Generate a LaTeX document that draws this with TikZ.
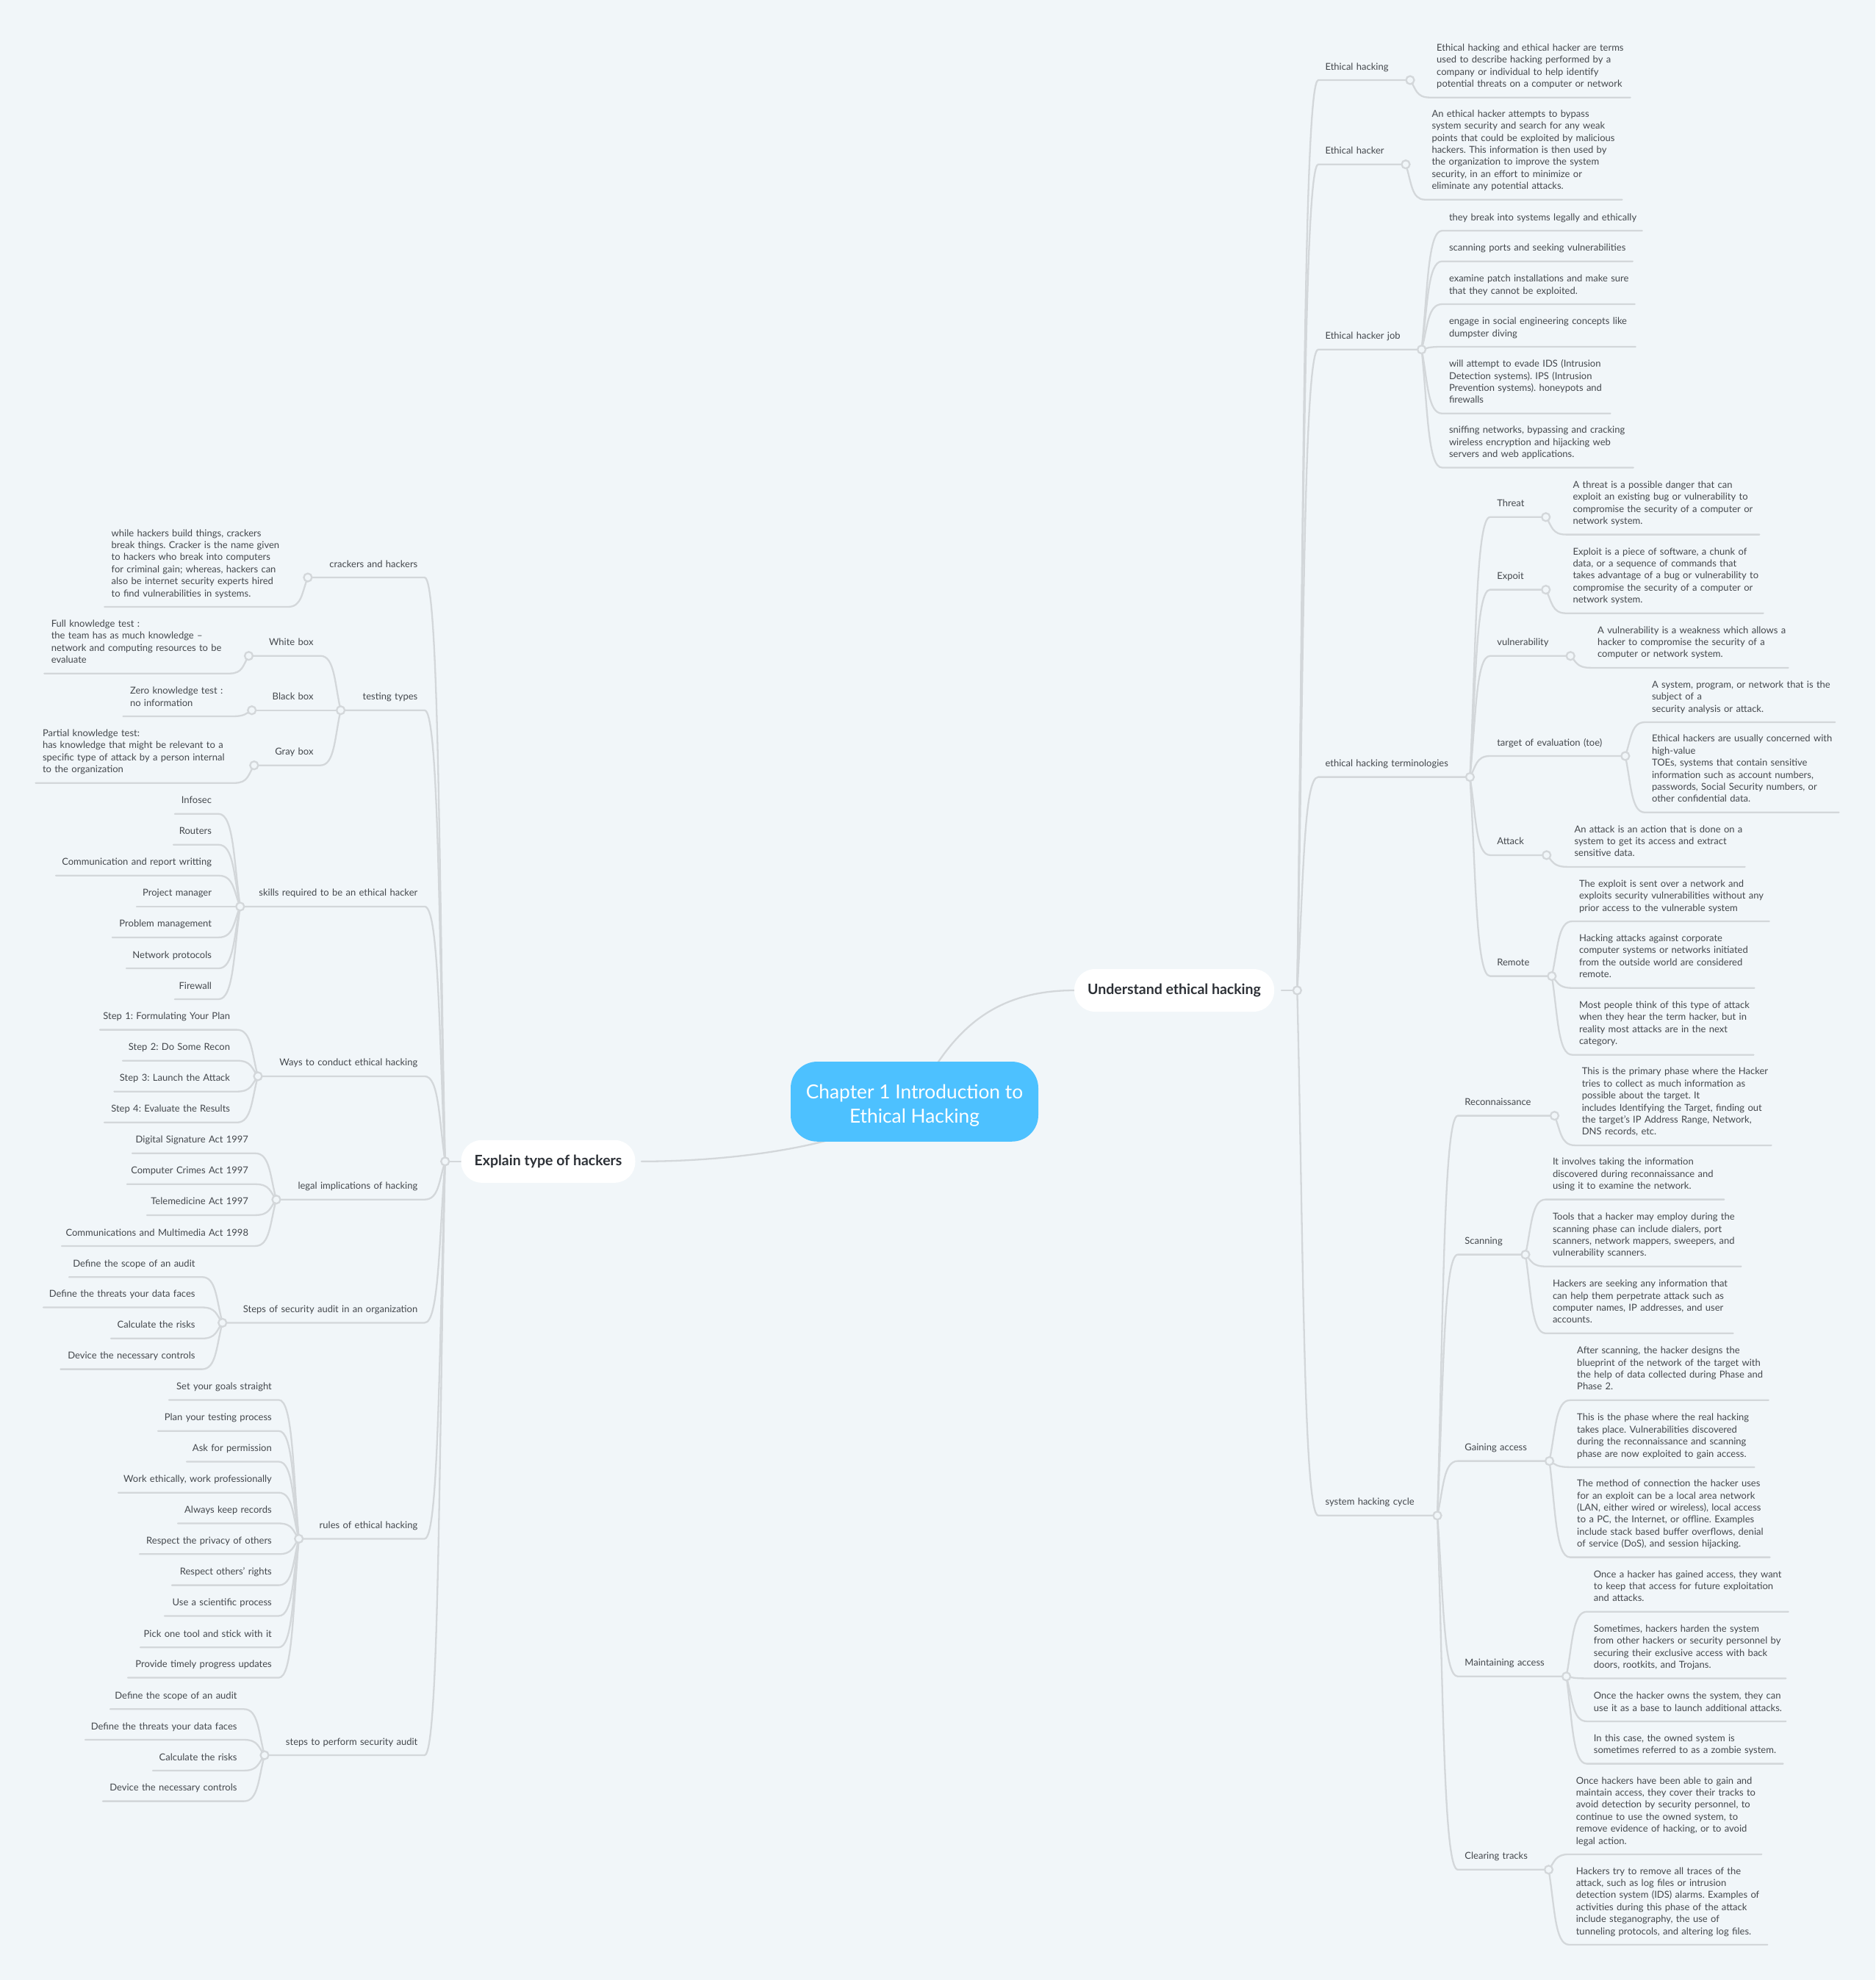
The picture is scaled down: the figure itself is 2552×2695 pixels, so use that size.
\documentclass[tikz,border=0pt]{standalone}
\usepackage{fontspec}
\setmainfont{Lato}
\frenchspacing
\usetikzlibrary{calc}
\definecolor{bgc}{HTML}{F1F6F9}
\definecolor{linec}{HTML}{D3D7DA}
\definecolor{ink}{HTML}{44484D}
\definecolor{inkb}{HTML}{2C3036}
\definecolor{rootc}{HTML}{4DC1FF}
\pgfdeclarelayer{lines}
\pgfsetlayers{lines,main}
\tikzset{
  conn/.style={draw=linec,line width=2.3pt,line cap=round},
  branch/.style={to path={let \p1=(\tikztostart),\p2=(\tikztotarget) in
     .. controls ({\x1+.3*(\x2-\x1)},{\y1+.5*(\y2-\y1)}) and ({\x1+.3*(\x2-\x1)},\y2) .. (\tikztotarget)}},
  dotn/.style={circle,draw=linec,fill=bgc,line width=2.3pt,minimum size=11pt,inner sep=0pt,outer sep=0pt},
  mmtext/.style={inner xsep=9.5pt,inner ysep=9pt,outer sep=0pt,text=ink,
     font=\fontsize{13}{16.4}\selectfont},
  leftt/.style={mmtext,anchor=south west,
     execute at begin node={\frenchspacing\parindent=0pt\rightskip=-30pt plus 1fil\relax\strut},
     execute at end node={\strut}},
  rightt/.style={mmtext,anchor=south west,
     execute at begin node={\frenchspacing\parindent=0pt\leftskip=-30pt plus 1fil\relax\rightskip=0pt\parfillskip=0pt\strut}},
  pill/.style={fill=white,rounded corners=28pt,inner sep=0pt,outer sep=0pt,minimum height=58pt,
     text=inkb,font=\fontsize{19.5}{22}\selectfont\bfseries},
  rootn/.style={fill=rootc,rounded corners=36pt,inner sep=0pt,outer sep=0pt,minimum width=337pt,minimum height=108.7pt,
     text=white,align=center,font=\fontsize{26.3}{33}\selectfont},
}
% right side: label with a dot at the end of its line
\newcommand\mmRD[6]{%
  \pgfmathsetmacro\mmw{#4-#3-19}%
  \node[leftt,text width=\mmw pt] (#1-t) at (#3,#5) {#6};
  \node[dotn] (#1) at (#4,#5) {};
  \begin{pgfonlayer}{lines}\draw[conn] (#2.center) to[branch] (#1-t.south west) -- (#1.center);\end{pgfonlayer}}
% right side: text with an underline
\newcommand\mmRL[6]{%
  \pgfmathsetmacro\mmw{#4-#3-19}%
  \node[leftt,text width=\mmw pt] (#1) at (#3,#5) {#6};
  \begin{pgfonlayer}{lines}\draw[conn] (#2.center) to[branch] (#1.south west) -- (#1.south east);\end{pgfonlayer}}
% left side: label with a dot at the start of its line
\newcommand\mmLD[6]{%
  \pgfmathsetmacro\mmw{#4-#3-19}%
  \node[rightt,text width=\mmw pt] (#1-t) at (#3,#5) {#6};
  \node[dotn] (#1) at (#3,#5) {};
  \begin{pgfonlayer}{lines}\draw[conn] (#2.center) to[branch] (#1-t.south east) -- (#1.center);\end{pgfonlayer}}
% left side: left-aligned text with an underline
\newcommand\mmLL[6]{%
  \pgfmathsetmacro\mmw{#4-#3-19}%
  \node[leftt,text width=\mmw pt] (#1) at (#3,#5) {#6};
  \begin{pgfonlayer}{lines}\draw[conn] (#2.center) to[branch] (#1.south east) -- (#1.south west);\end{pgfonlayer}}
% left side: right-aligned text with an underline
\newcommand\mmLR[6]{%
  \pgfmathsetmacro\mmw{#4-#3-19}%
  \node[rightt,text width=\mmw pt] (#1) at (#3,#5) {#6};
  \begin{pgfonlayer}{lines}\draw[conn] (#2.center) to[branch] (#1.south east) -- (#1.south west);\end{pgfonlayer}}
\begin{document}
\begin{tikzpicture}[x=1pt,y=-1pt]
\useasboundingbox (0,0) rectangle (2552,2695);
\begin{pgfonlayer}{lines}\fill[bgc] (0,0) rectangle (2552,2695);\end{pgfonlayer}
% central
\node[rootn,text depth=0pt] (root) at (1244.5,1499.4) {\raisebox{11.5pt}{\parbox{330pt}{\centering Chapter 1 Introduction to\\Ethical Hacking}}};
\node[pill,minimum width=272pt] (und) at (1598,1348) {Understand ethical hacking};
\node[pill,minimum width=237pt] (exp) at (746,1580.8) {Explain type of hackers};
\node[dotn] (udot) at (1765.3,1348) {};
\node[dotn] (edot) at (605.7,1580.8) {};
\coordinate (ustub) at (1744,1348);
\coordinate (estub) at (873,1580.8);
\begin{pgfonlayer}{lines}
\draw[conn] (root.center) .. controls (1290,1415) and (1340,1348) .. (und.west);
\draw[conn] (root.center) .. controls (1170,1560) and (1000,1580.8) .. (estub);
\draw[conn] (ustub) -- (udot.center);
\draw[conn] (exp.west) -- (edot.center);
\end{pgfonlayer}
% ---------------- right side
\mmRD{eh}{udot}{1794}{1919}{109}{Ethical hacking}
\mmRL{eha}{eh}{1945.7}{2218.6}{132.7}{Ethical hacking and ethical hacker are terms\\used to describe hacking performed by a\\company or individual to help identify\\potential threats on a computer or network}
\mmRD{er}{udot}{1794}{1913}{223.7}{Ethical hacker}
\mmRL{era}{er}{1939}{2207.5}{271.7}{An ethical hacker attempts to bypass\\system security and search for any weak\\points that could be exploited by malicious\\hackers. This information is then used by\\the organization to improve the system\\security, in an effort to minimize or\\eliminate any potential attacks.}
\mmRD{ej}{udot}{1794}{1934.6}{475.7}{Ethical hacker job}
\mmRL{eja}{ej}{1962.5}{2234.6}{314}{they break into systems legally and ethically}
\mmRL{ejb}{ej}{1962.5}{2221.8}{355.7}{scanning ports and seeking vulnerabilities}
\mmRL{ejc}{ej}{1962.5}{2224.6}{414}{examine patch installations and make sure\\that they cannot be exploited.}
\mmRL{ejd}{ej}{1962.5}{2225.7}{472}{engage in social engineering concepts like\\dumpster diving}
\mmRL{eje}{ej}{1962.5}{2191.5}{562.8}{will attempt to evade IDS (Intrusion\\Detection systems). IPS (Intrusion\\Prevention systems). honeypots and\\firewalls}
\mmRL{ejf}{ej}{1962.5}{2222.7}{636.5}{sniffing networks, bypassing and cracking\\wireless encryption and hijacking web\\servers and web applications.}
\mmRD{et}{udot}{1794}{2000.4}{1057.6}{ethical hacking terminologies}
\mmRD{th}{et}{2027.8}{2103.7}{703.8}{Threat}
\mmRL{tha}{th}{2131}{2394.4}{727.6}{A threat is a possible danger that can\\exploit an existing bug or vulnerability to\\compromise the security of a computer or\\network system.}
\mmRD{ex}{et}{2027.8}{2103.7}{802.6}{Expoit}
\mmRL{exa}{ex}{2131}{2399.6}{834.7}{Exploit is a piece of software, a chunk of\\data, or a sequence of commands that\\takes advantage of a bug or vulnerability to\\compromise the security of a computer or\\network system.}
\mmRD{vu}{et}{2027.8}{2137.2}{892.8}{vulnerability}
\mmRL{vua}{vu}{2164.6}{2433.6}{908.9}{A vulnerability is a weakness which allows a\\hacker to compromise the security of a\\computer or network system.}
\mmRD{to}{et}{2027.8}{2211.8}{1029}{target of evaluation (toe)}
\mmRL{toa}{to}{2238.5}{2497.3}{983}{A system, program, or network that is the\\subject of a\\security analysis or attack.}
\mmRL{tob}{to}{2238.5}{2502.5}{1105.8}{Ethical hackers are usually concerned with\\high-value\\TOEs, systems that contain sensitive\\information such as account numbers,\\passwords, Social Security numbers, or\\other confidential data.}
\mmRD{at}{et}{2027.8}{2104.7}{1163.9}{Attack}
\mmRL{ata}{at}{2133}{2374.6}{1179.9}{An attack is an action that is done on a\\system to get its access and extract\\sensitive data.}
\mmRD{re}{et}{2027.8}{2111.8}{1328.6}{Remote}
\mmRL{rea}{re}{2139.5}{2407.7}{1254}{The exploit is sent over a network and\\exploits security vulnerabilities without any\\prior access to the vulnerable system}
\mmRL{reb}{re}{2139.5}{2387.4}{1344.7}{Hacking attacks against corporate\\computer systems or networks initiated\\from the outside world are considered\\remote.}
\mmRL{rec}{re}{2139.5}{2386.4}{1435.7}{Most people think of this type of attack\\when they hear the term hacker, but in\\reality most attacks are in the next\\category.}
\mmRD{sy}{udot}{1794}{1956}{2062.8}{system hacking cycle}
\mmRD{rc}{sy}{1983.9}{2115.5}{1518.6}{Reconnaissance}
\mmRL{rca}{rc}{2143.3}{2410.5}{1558.9}{This is the primary phase where the Hacker\\tries to collect as much information as\\possible about the target. It\\includes Identifying the Target, finding out\\the target's IP Address Range, Network,\\DNS records, etc.}
\mmRD{sc}{sy}{1983.9}{2075.9}{1707.6}{Scanning}
\mmRL{sca}{sc}{2103.5}{2346.3}{1632.6}{It involves taking the information\\discovered during reconnaissance and\\using it to examine the network.}
\mmRL{scb}{sc}{2103.5}{2369.4}{1723.7}{Tools that a hacker may employ during the\\scanning phase can include dialers, port\\scanners, network mappers, sweepers, and\\vulnerability scanners.}
\mmRL{scc}{sc}{2103.5}{2358.6}{1814.8}{Hackers are seeking any information that\\can help them perpetrate attack such as\\computer names, IP addresses, and user\\accounts.}
\mmRD{ga}{sy}{1983.9}{2108.5}{1988.6}{Gaining access}
\mmRL{gaa}{ga}{2136.7}{2406.7}{1905.8}{After scanning, the hacker designs the\\blueprint of the network of the target with\\the help of data collected during Phase and\\Phase 2.}
\mmRL{gab}{ga}{2136.7}{2387.4}{1996.9}{This is the phase where the real hacking\\takes place. Vulnerabilities discovered\\during the reconnaissance and scanning\\phase are now exploited to gain access.}
\mmRL{gac}{ga}{2136.7}{2408.6}{2119.6}{The method of connection the hacker uses\\for an exploit can be a local area network\\(LAN, either wired or wireless), local access\\to a PC, the Internet, or offline. Examples\\include stack based buffer overflows, denial\\of service (DoS), and session hijacking.}
\mmRD{ma}{sy}{1983.9}{2131.6}{2281.8}{Maintaining access}
\mmRL{maa}{ma}{2159.4}{2433.6}{2193.7}{Once a hacker has gained access, they want\\to keep that access for future exploitation\\and attacks.}
\mmRL{mab}{ma}{2159.4}{2430.3}{2284.4}{Sometimes, hackers harden the system\\from other hackers or security personnel by\\securing their exclusive access with back\\doors, rootkits, and Trojans.}
\mmRL{mac}{ma}{2159.4}{2430.3}{2342.9}{Once the hacker owns the system, they can\\use it as a base to launch additional attacks.}
\mmRL{mad}{ma}{2159.4}{2426.5}{2400.6}{In this case, the owned system is\\sometimes referred to as a zombie system.}
\mmRD{cl}{sy}{1983.9}{2107.5}{2544.8}{Clearing tracks}
\mmRL{cla}{cl}{2135.3}{2397.3}{2523.9}{Once hackers have been able to gain and\\maintain access, they cover their tracks to\\avoid detection by security personnel, to\\continue to use the owned system, to\\remove evidence of hacking, or to avoid\\legal action.}
\mmRL{clb}{cl}{2135.3}{2405.3}{2646.9}{Hackers try to remove all traces of the\\attack, such as log files or intrusion\\detection system (IDS) alarms. Examples of\\activities during this phase of the attack\\include steganography, the use of\\tunneling protocols, and altering log files.}
% ---------------- left side
\mmLD{cr}{edot}{418.9}{577.8}{786}{crackers and hackers}
\mmLL{cra}{cr}{142.2}{392}{826}{while hackers build things, crackers\\break things. Cracker is the name given\\to hackers who break into computers\\for criminal gain; whereas, hackers can\\also be internet security experts hired\\to find vulnerabilities in systems.}
\mmLD{tt}{edot}{463.6}{577.8}{966.7}{testing types}
\mmLD{wb}{tt}{338.5}{436}{892.7}{White box}
\mmLL{wba}{wb}{60.3}{312.5}{916.7}{Full knowledge test :\\the team has as much knowledge --\\network and computing resources to be\\evaluate}
\mmLD{bb}{tt}{342.7}{436}{966.7}{Black box}
\mmLL{bba}{bb}{167.5}{315.5}{975}{Zero knowledge test :\\no information}
\mmLD{gb}{tt}{345.8}{436}{1041.7}{Gray box}
\mmLL{gba}{gb}{48.5}{319.4}{1065.7}{Partial knowledge test:\\has knowledge that might be relevant to a\\specific type of attack by a person internal\\to the organization}
\mmLD{sk}{edot}{326.8}{577.8}{1233.9}{skills required to be an ethical hacker}
\mmLR{ska}{sk}{237.9}{297.5}{1107.8}{Infosec}
\mmLR{skb}{sk}{236}{297.5}{1149.8}{Routers}
\mmLR{skc}{sk}{76}{297.5}{1191.8}{Communication and report writting}
\mmLR{skd}{sk}{186}{297.5}{1233.9}{Project manager}
\mmLR{ske}{sk}{152.9}{297.5}{1275.9}{Problem management}
\mmLR{skf}{sk}{172}{297.5}{1318}{Network protocols}
\mmLR{skg}{sk}{237.9}{297.5}{1360}{Firewall}
\mmLD{wy}{edot}{351}{577.8}{1464.9}{Ways to conduct ethical hacking}
\mmLR{wya}{wy}{136}{322.5}{1401.6}{Step 1: Formulating Your Plan}
\mmLR{wyb}{wy}{167}{322.5}{1443.7}{Step 2: Do Some Recon}
\mmLR{wyc}{wy}{155.4}{322.5}{1485.7}{Step 3: Launch the Attack}
\mmLR{wyd}{wy}{142}{322.5}{1527.8}{Step 4: Evaluate the Results}
\mmLD{lg}{edot}{376}{577.8}{1632.7}{legal implications of hacking}
\mmLR{lga}{lg}{180}{347.5}{1569.8}{Digital Signature Act 1997}
\mmLR{lgb}{lg}{172.9}{347.5}{1611.8}{Computer Crimes Act 1997}
\mmLR{lgc}{lg}{200}{347.5}{1653.9}{Telemedicine Act 1997}
\mmLR{lgd}{lg}{84}{347.5}{1695.9}{Communications and Multimedia Act 1998}
\mmLD{sa}{edot}{302.7}{577.8}{1800.4}{Steps of security audit in an organization}
\mmLR{saa}{sa}{94}{275}{1738.2}{Define the scope of an audit}
\mmLR{sab}{sa}{59}{275}{1779.5}{Define the threats your data faces}
\mmLR{sac}{sa}{151}{275}{1821.8}{Calculate the risks}
\mmLR{sad}{sa}{82.5}{275}{1863.6}{Device the necessary controls}
\mmLD{ru}{edot}{406.7}{577.8}{2094.4}{rules of ethical hacking}
\mmLR{rua}{ru}{230}{379.3}{1905.4}{Set your goals straight}
\mmLR{rub}{ru}{215}{379.3}{1947.7}{Plan your testing process}
\mmLR{ruc}{ru}{254}{379.3}{1989.5}{Ask for permission}
\mmLR{rud}{ru}{161}{379.3}{2031.7}{Work ethically, work professionally}
\mmLR{rue}{ru}{242}{379.3}{2073.5}{Always keep records}
\mmLR{ruf}{ru}{190}{379.3}{2115.3}{Respect the privacy of others}
\mmLR{rug}{ru}{234}{379.3}{2157.6}{Respect others' rights}
\mmLR{ruh}{ru}{224}{379.3}{2199.4}{Use a scientific process}
\mmLR{rui}{ru}{191}{379.3}{2242.2}{Pick one tool and stick with it}
\mmLR{ruj}{ru}{174}{379.3}{2283.5}{Provide timely progress updates}
\mmLD{sp}{edot}{360}{577.8}{2389}{steps to perform security audit}
\mmLR{spa}{sp}{150}{332}{2326.3}{Define the scope of an audit}
\mmLR{spb}{sp}{116}{332}{2368}{Define the threats your data faces}
\mmLR{spc}{sp}{208}{332}{2409.9}{Calculate the risks}
\mmLR{spd}{sp}{140}{332}{2451.6}{Device the necessary controls}
\end{tikzpicture}
\end{document}
